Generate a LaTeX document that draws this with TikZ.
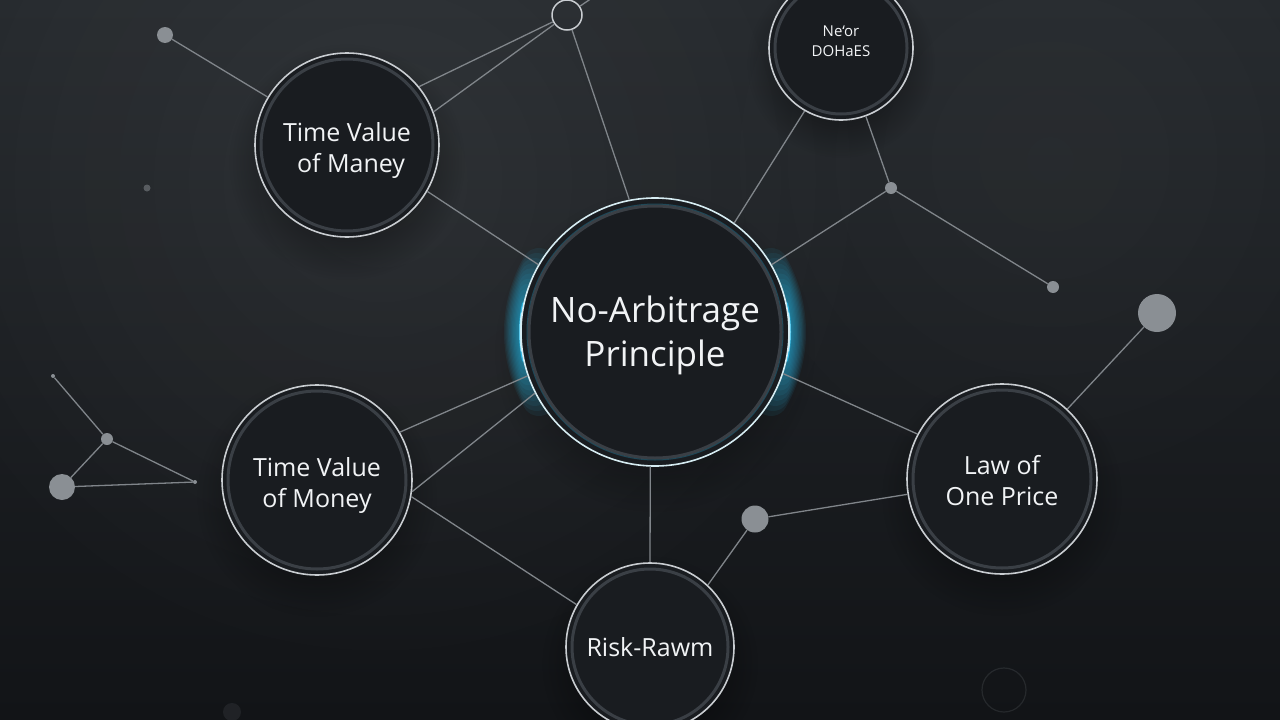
\documentclass[tikz,border=0pt]{standalone}
\usepackage{fontspec}
\setmainfont{Open Sans}
\usetikzlibrary{calc,fadings}
\tikzfading[name=softfade, inner color=transparent!0, outer color=transparent!100]
\definecolor{bgtop}{HTML}{25292D}
\definecolor{bgbot}{HTML}{121417}
\definecolor{linec}{HTML}{80858A}
\definecolor{dotc}{HTML}{8A8F94}
\definecolor{ringc}{HTML}{C9CDD1}
\definecolor{innerc}{HTML}{3A3F45}
\definecolor{nodefill}{HTML}{191C20}
\definecolor{txt}{HTML}{F1F3F5}
\definecolor{glowc}{HTML}{2EC4F5}
\definecolor{glowcore}{HTML}{B8F0FF}
\definecolor{cring}{HTML}{D6ECF2}
\newcommand{\twolines}[3]{\raisebox{#1}[\height][\depth]{\begin{tabular}{@{}c@{}}#2\\#3\end{tabular}}}
\tikzset{
  link/.style={draw=linec, line width=1.3pt},
  dotnode/.style={circle, fill=dotc, inner sep=0pt, draw=none},
  bub/.style={circle, draw=ringc, line width=1.6pt, fill=nodefill, text=txt, align=center, inner sep=0pt},
  innerring/.style={draw=innerc, line width=3pt},
  shadowfx/.style={fill=black, path fading=softfade, fill opacity=0.75},
  glowarc/.style={draw=glowc, line cap=round}
}
\begin{document}
\begin{tikzpicture}[x=1pt,y=-1pt]
\useasboundingbox (0,0) rectangle (1280,720);
% background
\shade[top color=bgtop,bottom color=bgbot] (0,0) rectangle (1280,720);
\fill[white, path fading=softfade, fill opacity=0.06] (380,180) circle (520);
\fill[white, path fading=softfade, fill opacity=0.03] (1050,160) circle (380);

% shadows
\fill[shadowfx] (347,162) circle (118);
\fill[shadowfx] (317,497) circle (120);
\fill[shadowfx] (1002,496) circle (120);
\fill[shadowfx] (650,664) circle (108);
\fill[shadowfx] (841,64) circle (94);
\fill[shadowfx] (655,352) circle (160);

% faint decorations
\draw[linec, opacity=0.18, line width=1.2pt] (1004,690) circle (22);
\fill[dotc, opacity=0.12] (232,712) circle (9);

% center glow (many soft layers)
\coordinate (cc) at (655,332);
\foreach \i in {0,...,11}{
  \pgfmathsetmacro{\a}{30-1.8*\i}
  \pgfmathsetmacro{\w}{34-2.6*\i}
  \draw[glowarc, line width=\w pt, opacity=0.07] ($(cc)+(180-\a:134)$) arc[start angle=180-\a, end angle=180+\a, radius=134];
  \draw[glowarc, line width=\w pt, opacity=0.07] ($(cc)+(-\a:134)$) arc[start angle=-\a, end angle=\a, radius=134];
}
\draw[glowarc, line width=4pt, opacity=0.8] ($(cc)+(168:134)$) arc[start angle=168, end angle=192, radius=134];
\draw[glowarc, line width=4pt, opacity=0.8] ($(cc)+(-12:134)$) arc[start angle=-12, end angle=12, radius=134];
\draw[draw=glowcore, line width=3pt, line cap=round] ($(cc)+(172:134)$) arc[start angle=172, end angle=188, radius=134];
\draw[draw=glowcore, line width=3pt, line cap=round] ($(cc)+(-8:134)$) arc[start angle=-8, end angle=8, radius=134];

% nodes
\node[bub, draw=cring, minimum size=268pt, font=\fontsize{35}{44}\selectfont] (c) at (655,332) {\twolines{-4pt}{No-Arbitrage}{Principle}};
\node[bub, minimum size=184pt, font=\fontsize{25}{31}\selectfont] (tl) at (347,145) {\twolines{-6pt}{Time Value}{\hspace*{8pt}of Maney}};
\node[bub, minimum size=190pt, font=\fontsize{25}{31}\selectfont] (bl) at (317,480) {\twolines{-6pt}{Time Value}{of Money}};
\node[bub, minimum size=190pt, font=\fontsize{25}{31}\selectfont] (r) at (1002,479) {\twolines{-5pt}{Law of}{One Price}};
\node[bub, minimum size=168pt, font=\fontsize{25}{31}\selectfont] (b) at (650,647) {Risk-Rawm};
\node[bub, minimum size=144pt, font=\fontsize{15}{20}\selectfont] (tr) at (841,48) {\twolines{6pt}{Ne‘or}{DOHaES}};

% inner bevel rings
\draw[innerring] (c) circle (126);
\draw[glowc, opacity=0.25, line width=1pt] (c) circle (128);
\draw[innerring] (tl) circle (86);
\draw[innerring] (bl) circle (89);
\draw[innerring] (r) circle (89);
\draw[innerring] (b) circle (78);
\draw[innerring] (tr) circle (66);

% small nodes
\node[dotnode, minimum size=16pt] (d1) at (165,35) {};
\node[dotnode, minimum size=7pt, opacity=0.5] (d2) at (147,188) {};
\node[circle, draw=ringc, line width=1.5pt, minimum size=30pt, inner sep=0pt] (rg) at (567,15) {};
\coordinate (e1) at (592,-2);
\node[dotnode, minimum size=12pt] (d3) at (891,188) {};
\node[dotnode, minimum size=12pt] (d4) at (1053,287) {};
\node[dotnode, minimum size=38pt] (d5) at (1157,313) {};
\node[dotnode, minimum size=27pt] (d6) at (755,519) {};
\node[dotnode, minimum size=4pt] (na) at (53,376) {};
\node[dotnode, minimum size=12pt] (nb) at (107,439) {};
\node[dotnode, minimum size=26pt] (nc) at (62,487) {};
\node[dotnode, minimum size=4pt] (nd) at (195,482) {};

% connectors
\draw[link] (d1) -- (tl);
\draw[link] (tl.39) -- (rg);
\draw[link] (tl.21) -- (rg);
\draw[link] (rg) -- (e1);
\draw[link] (rg) -- (c.101);
\draw[link] (tl.-30) -- (c.150);
\draw[link] (tr.-120) -- (c.54);
\draw[link] (tr.-70) -- (d3);
\draw[link] (d3) -- (d4);
\draw[link] (d3) -- (c.30);
\draw[link] (d5) -- (r);
\draw[link] (c.-18) -- (r.152);
\draw[link] (d6) -- (r);
\draw[link] (d6) -- (b.47);
\draw[link] (c.-92) -- (b.north);
\draw[link] (bl.30) -- (c.-161);
\draw[link] (bl.-7) -- (c.-153);
\draw[link] (bl.-10) -- (b.150);
\draw[link] (na) -- (nb);
\draw[link] (nb) -- (nc);
\draw[link] (nb) -- (nd);
\draw[link] (nc) -- (nd);
\end{tikzpicture}
\end{document}
